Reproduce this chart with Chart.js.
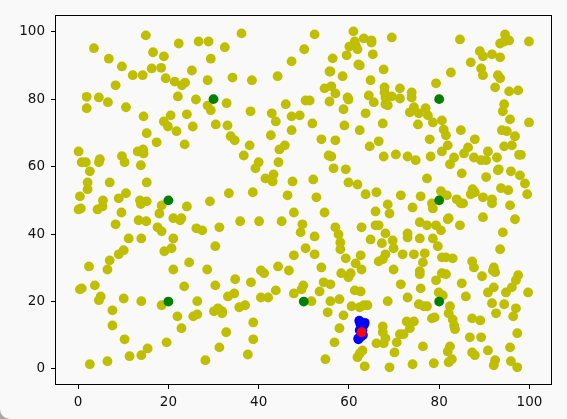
<!DOCTYPE html>
<html>
<head>
<meta charset="utf-8">
<title>scatter</title>
<script src="https://cdn.jsdelivr.net/npm/chart.js@4/dist/chart.umd.min.js"></script>
<style>
  html { margin: 0; padding: 0; background: #a9a9a9; }
  body { margin: 0; padding: 0; width: 567px; height: 419px; overflow: hidden;
         background: #f9f9f9; border-bottom-left-radius: 10px; }
  #wrap { position: relative; width: 567px; height: 419px; }
</style>
</head>
<body>
<div id="wrap"><canvas id="myChart" role="img" aria-label="Scatter plot of yellow, green, blue and red points"></canvas></div>
<script>
// values, [x, y]
var tickValues = [0, 20, 40, 60, 80, 100];

var redPoints = [[62.8, 10.9]];

var bluePoints = [[62.3, 14.3], [63.5, 13.7], [63.3, 13.0], [62.5, 13.5], [62.7, 12.1],
  [62.4, 11.5], [63.0, 11.5], [63.1, 10.1], [62.7, 9.6], [62.1, 9.1], [62.1, 8.8]];

var greenPoints = [[20, 20], [20, 50], [30, 80], [50, 20], [80, 20], [80, 50], [80, 80]];

var yellowPoints = [
  [15.0,98.9],[3.5,95.1],[6.8,92.0],[9.7,89.7],[12.1,87.1],[14.3,87.1],[8.3,84.1],[1.9,80.7],[4.6,80.5],[6.6,79.1],
  [1.9,77.3],[10.6,77.6],[14.5,74.9],[16.6,93.9],[19.0,92.7],[16.3,89.1],[18.4,89.3],[19.4,86.2],[21.4,85.2],[23.7,84.9],
  [23.0,84.1],[25.2,88.5],[22.3,96.5],[26.7,97.1],[28.9,97.1],[29.4,92.0],[28.7,85.6],[32.5,95.4],[36.2,99.5],[34.2,86.4],
  [38.5,85.6],[44.2,86.8],[47.3,91.2],[22.1,80.8],[26.1,79.9],[28.7,78.1],[29.4,76.7],[32.9,78.8],[38.2,76.4],[42.9,75.8],
  [46.0,78.5],[47.3,74.9],[49.1,75.2],[43.8,73.4],[47.3,70.8],[42.7,69.3],[45.8,66.3],[44.6,65.1],[44.4,61.3],[20.5,75.2],
  [19.0,73.4],[19.9,71.9],[24.1,75.5],[25.4,71.9],[21.8,70.5],[15.2,69.9],[17.4,67.2],[23.6,66.6],[30.5,72.5],[33.1,72.2],
  [33.8,69.0],[34.7,67.8],[38.0,66.3],[36.7,63.3],[40.0,61.3],[39.3,59.5],[41.5,56.5],[43.3,57.7],[43.1,55.6],[47.5,55.6],
  [46.4,51.5],[38.7,52.4],[33.4,52.1],[29.2,49.7],[24.1,48.2],[0.1,64.5],[0.8,61.3],[1.7,61.3],[2.6,58.6],[4.8,62.2],
  [4.6,61.3],[2.1,55.3],[2.1,53.3],[0.4,51.2],[7.0,55.3],[9.7,63.1],[10.3,61.3],[13.9,60.4],[13.2,64.5],[14.4,65.1],
  [14.5,63.9],[15.2,55.3],[10.6,52.1],[9.0,50.6],[5.5,50.0],[13.7,50.0],[13.9,48.9],[15.2,49.7],[18.5,48.5],[0.6,47.6],
  [0.1,47.3],[4.3,47.3],[5.4,48.2],[9.6,46.4],[8.3,42.9],[13.4,44.1],[15.1,43.8],[18.0,46.1],[21.1,44.7],[22.6,44.1],
  [22.9,44.7],[17.6,42.0],[18.5,40.8],[26.2,41.7],[27.5,41.1],[31.3,42.0],[35.9,43.8],[40.1,43.8],[45.1,43.8],[47.8,46.4],
  [49.3,40.5],[49.7,42.9],[11.2,38.7],[14.0,38.7],[21.1,38.7],[30.4,36.4],[20.7,35.8],[19.1,34.9],[10.1,35.2],[9.0,34.0],
  [7.0,32.2],[2.4,30.4],[6.5,29.5],[24.6,31.6],[21.1,29.5],[28.6,29.5],[40.5,29.2],[41.2,28.4],[44.3,30.4],[46.7,29.2],
  [47.8,33.7],[34.8,26.6],[38.3,25.7],[30.4,24.8],[23.5,24.5],[3.7,24.8],[0.8,23.9],[0.4,23.6],[5.0,21.5],[4.6,20.4],
  [10.1,20.9],[14.0,20.1],[18.5,18.9],[26.4,20.1],[34.6,22.4],[33.2,21.5],[40.5,21.2],[42.1,21.2],[43.8,23.3],[47.8,22.4],
  [7.6,17.4],[7.6,12.9],[10.3,8.8],[11.4,3.8],[14.0,4.1],[15.4,6.1],[19.6,7.9],[2.6,1.4],[6.5,2.3],
  [28.2,2.6],[31.3,6.4],[37.6,4.3],[38.8,8.8],[38.8,13.8],[32.8,10.9],[22.9,12.1],[22.0,15.6],[25.5,15.6],[26.4,16.2],
  [30.1,17.1],[31.0,18.0],[31.9,17.1],[31.9,16.5],[35.7,18.3],[37.0,18.9],
  [52.4,99.2],[50.1,94.8],[61.0,100.1],[63.3,98.0],[65.0,97.4],[65.0,96.8],[61.3,97.1],[60.1,95.6],[61.9,94.8],[61.5,95.9],
  [69.5,98.3],[65.3,93.3],[59.5,93.0],[56.4,92.1],[62.1,90.3],[62.4,90.0],[67.7,88.8],[55.7,88.2],[55.9,88.2],[58.6,86.8],
  [64.8,85.6],[54.6,83.2],[56.1,83.8],[57.0,81.7],[55.7,79.3],[59.7,80.5],[59.9,79.9],[64.4,81.1],[65.5,79.1],[67.9,83.5],
  [67.9,82.0],[68.1,80.5],[69.5,80.8],[71.3,83.2],[71.3,80.2],[68.1,78.5],[68.6,78.2],[73.9,82.0],[73.9,80.5],[79.3,84.7],
  [82.6,87.9],[84.6,97.7],[74.4,77.6],[73.5,76.1],[75.5,75.8],[77.0,77.3],[77.5,75.2],[78.6,73.1],[80.6,73.7],[75.3,72.5],
  [81.0,71.0],[81.5,69.3],[77.9,68.1],[81.9,66.3],[80.6,64.5],[78.1,63.0],[74.8,61.9],[73.0,63.0],[70.4,63.6],[67.7,63.0],
  [64.6,66.0],[66.6,67.5],[62.4,70.8],[67.5,72.8],[63.7,75.8],[58.8,77.0],[59.0,72.2],[51.9,72.8],[50.4,79.6],[51.3,79.6],
  [53.9,68.1],[57.0,67.8],[55.5,63.3],[56.1,63.0],[56.6,59.5],[59.3,59.2],[52.1,56.2],[52.8,50.9],[59.9,55.3],[61.9,54.7],
  [63.7,51.8],[66.1,52.4],[71.5,51.5],[68.6,48.8],[75.9,51.2],[77.3,56.5],[74.1,47.9],[78.4,49.1],[80.4,52.7],[81.7,51.5],
  [85.0,58.0],[82.4,60.7],[83.3,62.7],[85.5,63.9],[86.4,65.7],[87.9,68.1],[84.8,70.8],[87.7,62.7],[89.3,61.9],[90.4,61.9],
  [90.8,64.5],[92.8,62.7],[94.4,66.0],[96.1,66.3],[96.8,69.0],[95.0,70.5],[93.9,70.8],[99.9,73.1],[95.7,74.0],[94.1,76.4],
  [94.4,78.5],[95.5,82.3],[97.5,82.6],[92.4,83.5],[93.5,86.2],[93.0,87.1],[89.7,87.1],[89.3,89.1],[87.0,90.9],[89.0,94.2],
  [89.7,92.7],[91.7,93.3],[93.5,92.4],[93.5,96.5],[94.4,97.1],[95.5,97.4],[94.6,99.2],[99.9,97.1],[97.7,63.5],[98.1,63.5],
  [93.2,59.2],[93.0,58.9],[95.9,58.6],[97.9,57.4],[99.0,55.0],[90.4,56.9],[93.7,53.6],[95.3,53.0],[99.5,51.8],[87.0,51.8],
  [87.4,53.3],[87.9,52.4],[89.7,50.9],[83.9,50.3],[84.8,49.1],[85.3,49.1],[91.7,50.3],[91.7,49.1],[95.7,48.5],
  [78.6,47.6],[54.6,46.4],[65.9,46.7],[69.0,46.1],[89.7,45.0],[96.8,44.4],[82.1,44.7],[81.9,44.4],[52.4,39.3],[57.0,42.0],
  [57.7,39.9],[58.1,37.5],[58.1,35.5],[62.8,42.0],[65.9,42.6],[66.6,42.6],[68.1,40.2],[64.8,38.4],[67.3,37.3],[69.7,38.1],
  [69.9,35.8],[73.0,40.2],[73.0,39.0],[75.7,43.5],[77.3,42.6],[79.3,42.6],[80.4,41.1],[84.6,42.6],[94.1,40.5],[93.5,35.5],
  [75.7,38.7],[78.6,38.7],[79.7,36.4],[76.8,34.3],[74.4,34.0],[71.9,34.0],[68.1,34.0],[62.6,33.7],[59.3,32.8],[50.4,35.8],
  [52.4,34.0],[53.9,30.1],[67.5,32.5],[66.6,31.9],[61.5,31.3],[62.8,29.5],[69.9,29.5],[76.4,31.6],[80.6,33.1],[81.5,33.1],
  [83.0,32.8],[87.3,31.9],[87.7,30.1],[92.1,30.1],[91.9,29.2],[92.4,28.7],[89.5,27.5],[97.5,27.8],[97.0,26.3],[96.1,24.2],
  [94.8,22.7],[92.1,24.2],[90.8,22.7],[99.7,22.7],[91.7,19.5],[94.4,19.2],[97.0,18.0],[96.4,15.6],[92.6,16.5],[89.1,14.4],
  [87.3,15.0],[97.3,10.6],[89.3,9.4],[86.8,9.4],[95.7,6.4],[90.8,5.5],[87.3,4.9],[87.9,4.1],[92.4,2.6],[92.1,1.1],
  [95.9,2.3],[97.3,0.5],[82.4,6.7],[81.9,5.2],[82.8,2.9],[82.1,2.0],[78.8,1.7],[74.1,1.4],[69.0,0.5],[63.5,0.8],
  [54.8,2.9],[61.9,3.5],[62.4,4.6],[63.0,5.5],[56.8,7.9],[57.9,12.1],[58.8,15.9],[55.3,16.8],[76.4,6.7],[70.1,4.9],
  [66.1,7.6],[67.7,7.6],[68.1,9.1],[67.5,10.9],[67.5,12.6],[70.6,7.9],[71.3,10.3],[72.1,10.3],[73.5,12.1],[72.8,14.1],
  [74.4,14.1],[78.4,15.0],[79.0,15.3],[75.5,19.2],[76.6,18.6],[77.3,18.6],[73.0,21.2],[68.6,20.1],[75.9,23.9],[71.5,25.1],
  [79.3,26.3],[75.7,29.0],[75.7,28.1],[80.6,28.4],[81.5,28.1],[85.0,25.4],[79.9,22.7],[80.8,21.8],[85.9,21.5],[82.4,18.6],
  [82.1,16.5],[83.0,14.7],[83.3,12.9],[83.5,11.8],[64.1,18.9],[63.3,18.9],[62.4,18.3],[60.6,18.6],[62.6,23.0],[61.3,23.3],
  [57.9,20.7],[55.9,20.1],[53.5,23.0],[54.4,25.7],[55.9,25.1],[51.7,20.1],[49.9,24.8],[49.5,23.6],[58.3,28.4],[59.9,27.2],
  [60.4,28.4]
];

function toXY(list) {
  return list.map(function (p) { return { x: p[0], y: p[1] }; });
}

function dots(list, colour) {
  return {
    data: toXY(list),
    backgroundColor: colour,
    borderColor: colour,
    borderWidth: 0,
    pointRadius: 4.9,
    pointHoverRadius: 4.9
  };
}

// box around the plot, drawn crisp on whole pixel rows
var frame = {
  id: 'frame',
  afterDraw: function (chart) {
    var a = chart.chartArea, c = chart.ctx;
    c.save();
    c.strokeStyle = '#000';
    c.lineWidth = 1;
    c.strokeRect(a.left - 0.5, a.top + 0.5, a.right - a.left, a.bottom - a.top);
    c.restore();
  }
};

function axis(min, max, size, horizontal) {
  return {
    min: min,
    max: max,
    afterBuildTicks: function (scale) {
      scale.ticks = tickValues.map(function (v) { return { value: v }; });
    },
    afterFit: function (scale) {
      if (horizontal) scale.height = size; else scale.width = size;
    },
    grid: { drawOnChartArea: false, drawTicks: true, tickLength: 5, tickColor: '#000', tickWidth: 1 },
    border: { display: false },
    ticks: { color: '#111', padding: horizontal ? 5 : 6, maxRotation: 0, autoSkip: false,
             font: { family: '"DejaVu Sans"', size: 13.5 } }
  };
}

var ctx = document.getElementById('myChart').getContext('2d');
var myChart = new Chart(ctx, {
  type: 'scatter',
  data: {
    // first dataset ends up on top
    datasets: [dots(redPoints, '#ff0000'), dots(bluePoints, '#0000ff'),
               dots(greenPoints, '#008000'), dots(yellowPoints, '#bfbf00')]
  },
  options: {
    responsive: true,
    maintainAspectRatio: false,
    animation: false,
    layout: { padding: { top: 15, right: 15, left: 0, bottom: 0 } },
    plugins: { legend: { display: false }, tooltip: { enabled: false } },
    scales: {
      x: axis(-4.9, 105, 35, true),
      y: axis(-4.45, 104.95, 56, false)
    }
  },
  plugins: [frame]
});
</script>
</body>
</html>
